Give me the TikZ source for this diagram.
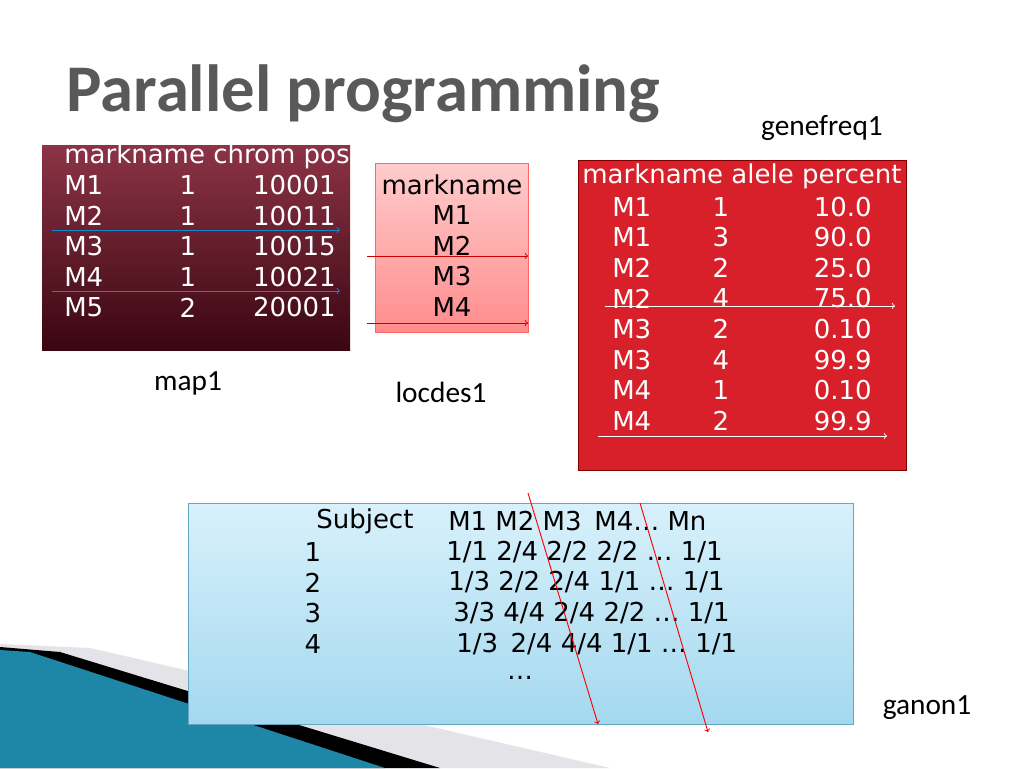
\documentclass[tikz,border=0pt]{standalone}
\usepackage{fontspec}
\setmainfont{DejaVu Sans}
\newfontfamily\calibri{Carlito}
\usetikzlibrary{positioning}
\definecolor{mapTop}{HTML}{8C3446}
\definecolor{mapBot}{HTML}{3A0610}
\definecolor{freqRed}{HTML}{D8202A}
\definecolor{skyTop}{HTML}{D8F1FB}
\definecolor{skyBot}{HTML}{A4D8EF}
\definecolor{tealDeco}{HTML}{1E86A6}
\definecolor{titleGray}{HTML}{595959}
\tikzset{
  cell/.style={font=\fontsize{19.5}{22}\selectfont, inner sep=0pt},
  lbl/.style={font=\calibri\fontsize{22}{24}\selectfont, inner sep=0pt},
  link/.style={->, line width=0.7pt}
}
\begin{document}
\begin{tikzpicture}[x=0.75pt, y=-0.75pt]
\useasboundingbox (0,0) rectangle (1024,768);
\fill[white] (0,0) rectangle (1024,768);

% corner decoration
\fill[blue!10!gray!20] (0,644) -- (90,648) -- (610,768) -- (0,768) -- cycle;
\fill[black] (0,647) -- (60,652) -- (440,768) -- (0,768) -- cycle;
\fill[tealDeco] (0,650) -- (30,652) -- (385,768) -- (0,768) -- cycle;

% title
\node[anchor=west, text=titleGray, font=\calibri\bfseries\fontsize{50}{54}\selectfont] (title) at (62,94) {Parallel programming};

% map1
\shade[top color=mapTop, bottom color=mapBot] (42,145) rectangle (350,350);
\node[cell, text=white] (mh) at (207,156) {markname chrom pos};
\foreach \m/\c/\p [count=\i] in {M1/1/10001,M2/1/10011,M3/1/10015,M4/1/10021, M5/2/20001} {
  \node[cell, text=white, anchor=west] (mm\i) at (64,155+30.5*\i) {\m};
  \node[cell, text=white] (mc\i) at (188,155+30.5*\i) {\c};
  \node[cell, text=white, anchor=east] (mp\i) at (336,155+30.5*\i) {\p};
}
\node[lbl] (map) at (188,383) {map1};

% locdes1
\shade[top color=red!20, bottom color=red!45, draw=red!60] (375,163) rectangle (528,332);
\node[cell] (lh) at (452,185) {markname};
\foreach \m [count=\i] in {M1,M2,M3,M4}
  \node[cell] (lm\i) at (452,185+30.5*\i) {\m};
\node[lbl] (loc) at (441,392) {locdes1};

% genefreq1
\fill[freqRed, draw=red!50!black] (578,160) rectangle (906,470);
\node[cell, text=white] (gh) at (742,176) {markname alele percent};
\foreach \m/\a/\p [count=\i] in {M1/1/10.0,M1/3/90.0,M2/2/25.0,M2/4/75.0,M3/2/0.10,M3/4/99.9,M4/1/0.10,M4/2/99.9} {
  \node[cell, text=white, anchor=west] (gm\i) at (612,176+30.6*\i) {\m};
  \node[cell, text=white] (ga\i) at (721,176+30.6*\i) {\a};
  \node[cell, text=white, anchor=east] (gp\i) at (872,176+30.6*\i) {\p};
}
\node[lbl] (gene) at (822,128) {genefreq1};

% ganon1
\shade[top color=skyTop, bottom color=skyBot, draw=cyan!50!gray] (188,503) rectangle (853,724);
\node[cell, anchor=west] (sh) at (316,521) {Subject};
\node[cell, anchor=west] (sm) at (448,521) {M1 M2 M3\, M4\ldots\ Mn};
\foreach \s/\g/\dx [count=\i] in {1/{1/1 2/4 2/2 2/2 \ldots\ 1/1}/0,2/{1/3 2/2 2/4 1/1 \ldots\ 1/1}/2,3/{3/3 4/4 2/4 2/2 \ldots\ 1/1}/7,4/{1/3\, 2/4 4/4 1/1 \ldots\ 1/1}/10} {
  \node[cell] (sn\i) at (313,521+30.7*\i) {\s};
  \node[cell, anchor=west] (sg\i) at (446+\dx,521+30.7*\i) {\g};
}
\node[cell] (dots) at (520,678) {\ldots};
\node[lbl] (gan) at (927,708) {ganon1};

% links
\coordinate (b1s) at (52,230);  \coordinate (b1e) at (340,230);
\coordinate (b2s) at (52,291);  \coordinate (b2e) at (340,291);
\draw[link, cyan!70!blue] (b1s) -- (b1e);
\draw[link, cyan!70!blue] (b2s) -- (b2e);
\coordinate (r1s) at (367,256); \coordinate (r1e) at (528,256);
\coordinate (r2s) at (367,323); \coordinate (r2e) at (528,323);
\draw[link, red!80!black] (r1s) -- (r1e);
\draw[link, red!80!black] (r2s) -- (r2e);
\coordinate (w1s) at (605,306); \coordinate (w1e) at (895,306);
\coordinate (w2s) at (598,436); \coordinate (w2e) at (887,436);
\draw[link, white] (w1s) -- (w1e);
\draw[link, white] (w2s) -- (w2e);
\coordinate (d1s) at (528,493); \coordinate (d1e) at (598,724);
\coordinate (d2s) at (640,503); \coordinate (d2e) at (708,732);
\draw[link, red] (d1s) -- (d1e);
\draw[link, red] (d2s) -- (d2e);
\end{tikzpicture}
\end{document}
